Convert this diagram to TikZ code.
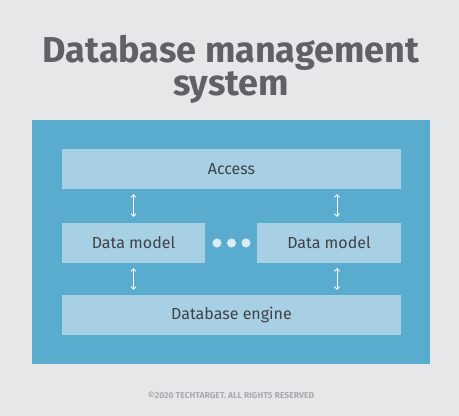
\documentclass[tikz,border=0pt]{standalone}
\usepackage{fontspec}
\setmainfont{Fira Sans}
\usetikzlibrary{arrows.meta}
\definecolor{bggray}{HTML}{E6E7E9}
\definecolor{panelblue}{HTML}{5AACCE}
\definecolor{layerblue}{HTML}{A7D0E4}
\definecolor{titlegray}{HTML}{606164}
\definecolor{labelgray}{HTML}{3F4246}
\definecolor{notegray}{HTML}{A9AAAD}
\definecolor{dotwhite}{HTML}{DDECF4}
\tikzset{
  layer/.style={fill=layerblue, draw=none, minimum height=40pt, inner sep=0pt,
    text=labelgray, font=\fontsize{16}{18}\selectfont},
  updown/.style={draw=white, line width=0.9pt,
    {Straight Barb[length=2.5pt,width=5pt]}-{Straight Barb[length=2.5pt,width=5pt]}}
}

\begin{document}
\begin{tikzpicture}[x=1pt,y=-1pt]
		%%%%% START %%%%%
		\fill[bggray] (0,0) rectangle (459,416);
		\useasboundingbox (0,0) rectangle (459,416);
		
		\node[anchor=base, align=center, text=titlegray,
		  font=\fontsize{36}{33}\selectfont\bfseries] (title) at (231,95)
		  {Database management\\system};
		
		\fill[panelblue] (32,120) rectangle (430,364);
		
		\node[layer, minimum width=339pt] (access) at (231.5,169) {Access};
		\node[layer, minimum width=143pt] (dmleft) at (133.5,243) {Data model};
		\node[layer, minimum width=144pt] (dmright) at (329,243) {Data model};
		\node[layer, minimum width=339pt] (engine) at (231.5,315) {Database engine};
		
		\foreach \x in {217,231.5,246}
		  \fill[dotwhite] (\x,243) circle (4.5);
		
		\draw[updown] ([yshift=-5pt]access.south -| dmleft) -- ([yshift=6pt]dmleft.north);
		\draw[updown] ([yshift=-5pt]access.south -| 337,0) -- ([xshift=8pt,yshift=6pt]dmright.north);
		\draw[updown] ([yshift=-5pt]dmleft.south) -- ([yshift=5pt]engine.north -| dmleft);
		\draw[updown] ([xshift=8pt,yshift=-5pt]dmright.south) -- ([yshift=5pt]engine.north -| 337,0);
		
		\node[text=notegray, font=\fontsize{8.6}{10}\selectfont\bfseries] (note) at (231,395)
		  {©2020 TECHTARGET. ALL RIGHTS RESERVED};
		%%%%% END %%%%%
\end{tikzpicture}
\end{document}
